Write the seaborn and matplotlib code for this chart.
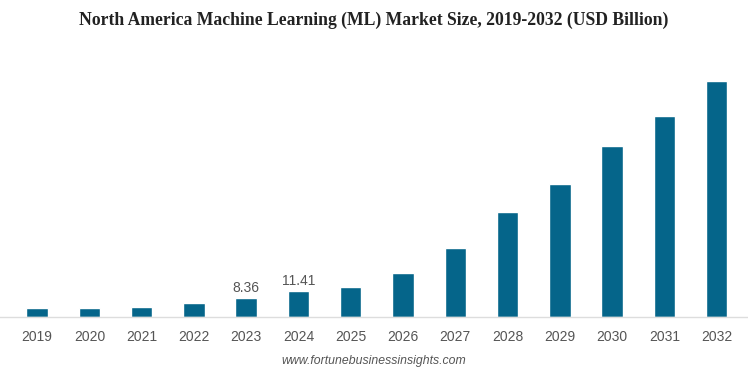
import matplotlib
matplotlib.use("Agg")
import matplotlib.pyplot as plt
import pandas as pd
import seaborn as sns

YEARS = ["2019", "2020", "2021", "2022", "2023", "2024", "2025",
         "2026", "2027", "2028", "2029", "2030", "2031", "2032"]
MARKET_SIZE = [3.75, 4.06, 4.5, 6.1, 8.36, 11.41, 13.1,
               19.0, 30.0, 46.0, 57.9, 74.8, 87.5, 102.8]
LABELED_YEARS = ["2023", "2024"]

TITLE = "North America Machine Learning (ML) Market Size, 2019-2032 (USD Billion)"
SOURCE = "www.fortunebusinessinsights.com"


def main() -> None:
    sns.set_theme(style="white")
    plt.rcParams["font.family"] = ["Liberation Sans", "DejaVu Sans"]
    data = pd.DataFrame({"year": YEARS, "size": MARKET_SIZE})

    fig = plt.figure(figsize=(7.48, 3.74), dpi=100)
    ax = fig.add_axes([0.0, 0.1524, 1.0, 0.674])
    sns.barplot(data=data, x="year", y="size", color="#05658a", width=0.41,
                saturation=1, ax=ax)
    ax.set_xlim(-0.71, 13.6)
    ax.set_ylim(0, 110)

    for i, (year, value) in enumerate(zip(YEARS, MARKET_SIZE)):
        if year in LABELED_YEARS:
            ax.text(i, value + 1.3, f"{value:.2f}", ha="center", va="bottom",
                    fontsize=10, color="#555555")

    sns.despine(ax=ax, left=True)
    ax.spines["bottom"].set_color("#dddddd")
    ax.spines["bottom"].set_linewidth(1)
    ax.set_yticks([])
    ax.set_xlabel("")
    ax.set_ylabel("")
    ax.tick_params(axis="x", length=0, pad=9, labelsize=10, labelcolor="#555555")

    fig.text(0.5, 0.945, TITLE, ha="center", va="center", fontsize=12.7,
             fontweight="bold", family="Liberation Serif", color="#222222")
    fig.text(0.5, 0.035, SOURCE, ha="center", va="center", fontsize=8.8,
             style="italic", color="#555555")

    fig.savefig("out.png", dpi=100)
    plt.close(fig)


if __name__ == "__main__":
    main()
